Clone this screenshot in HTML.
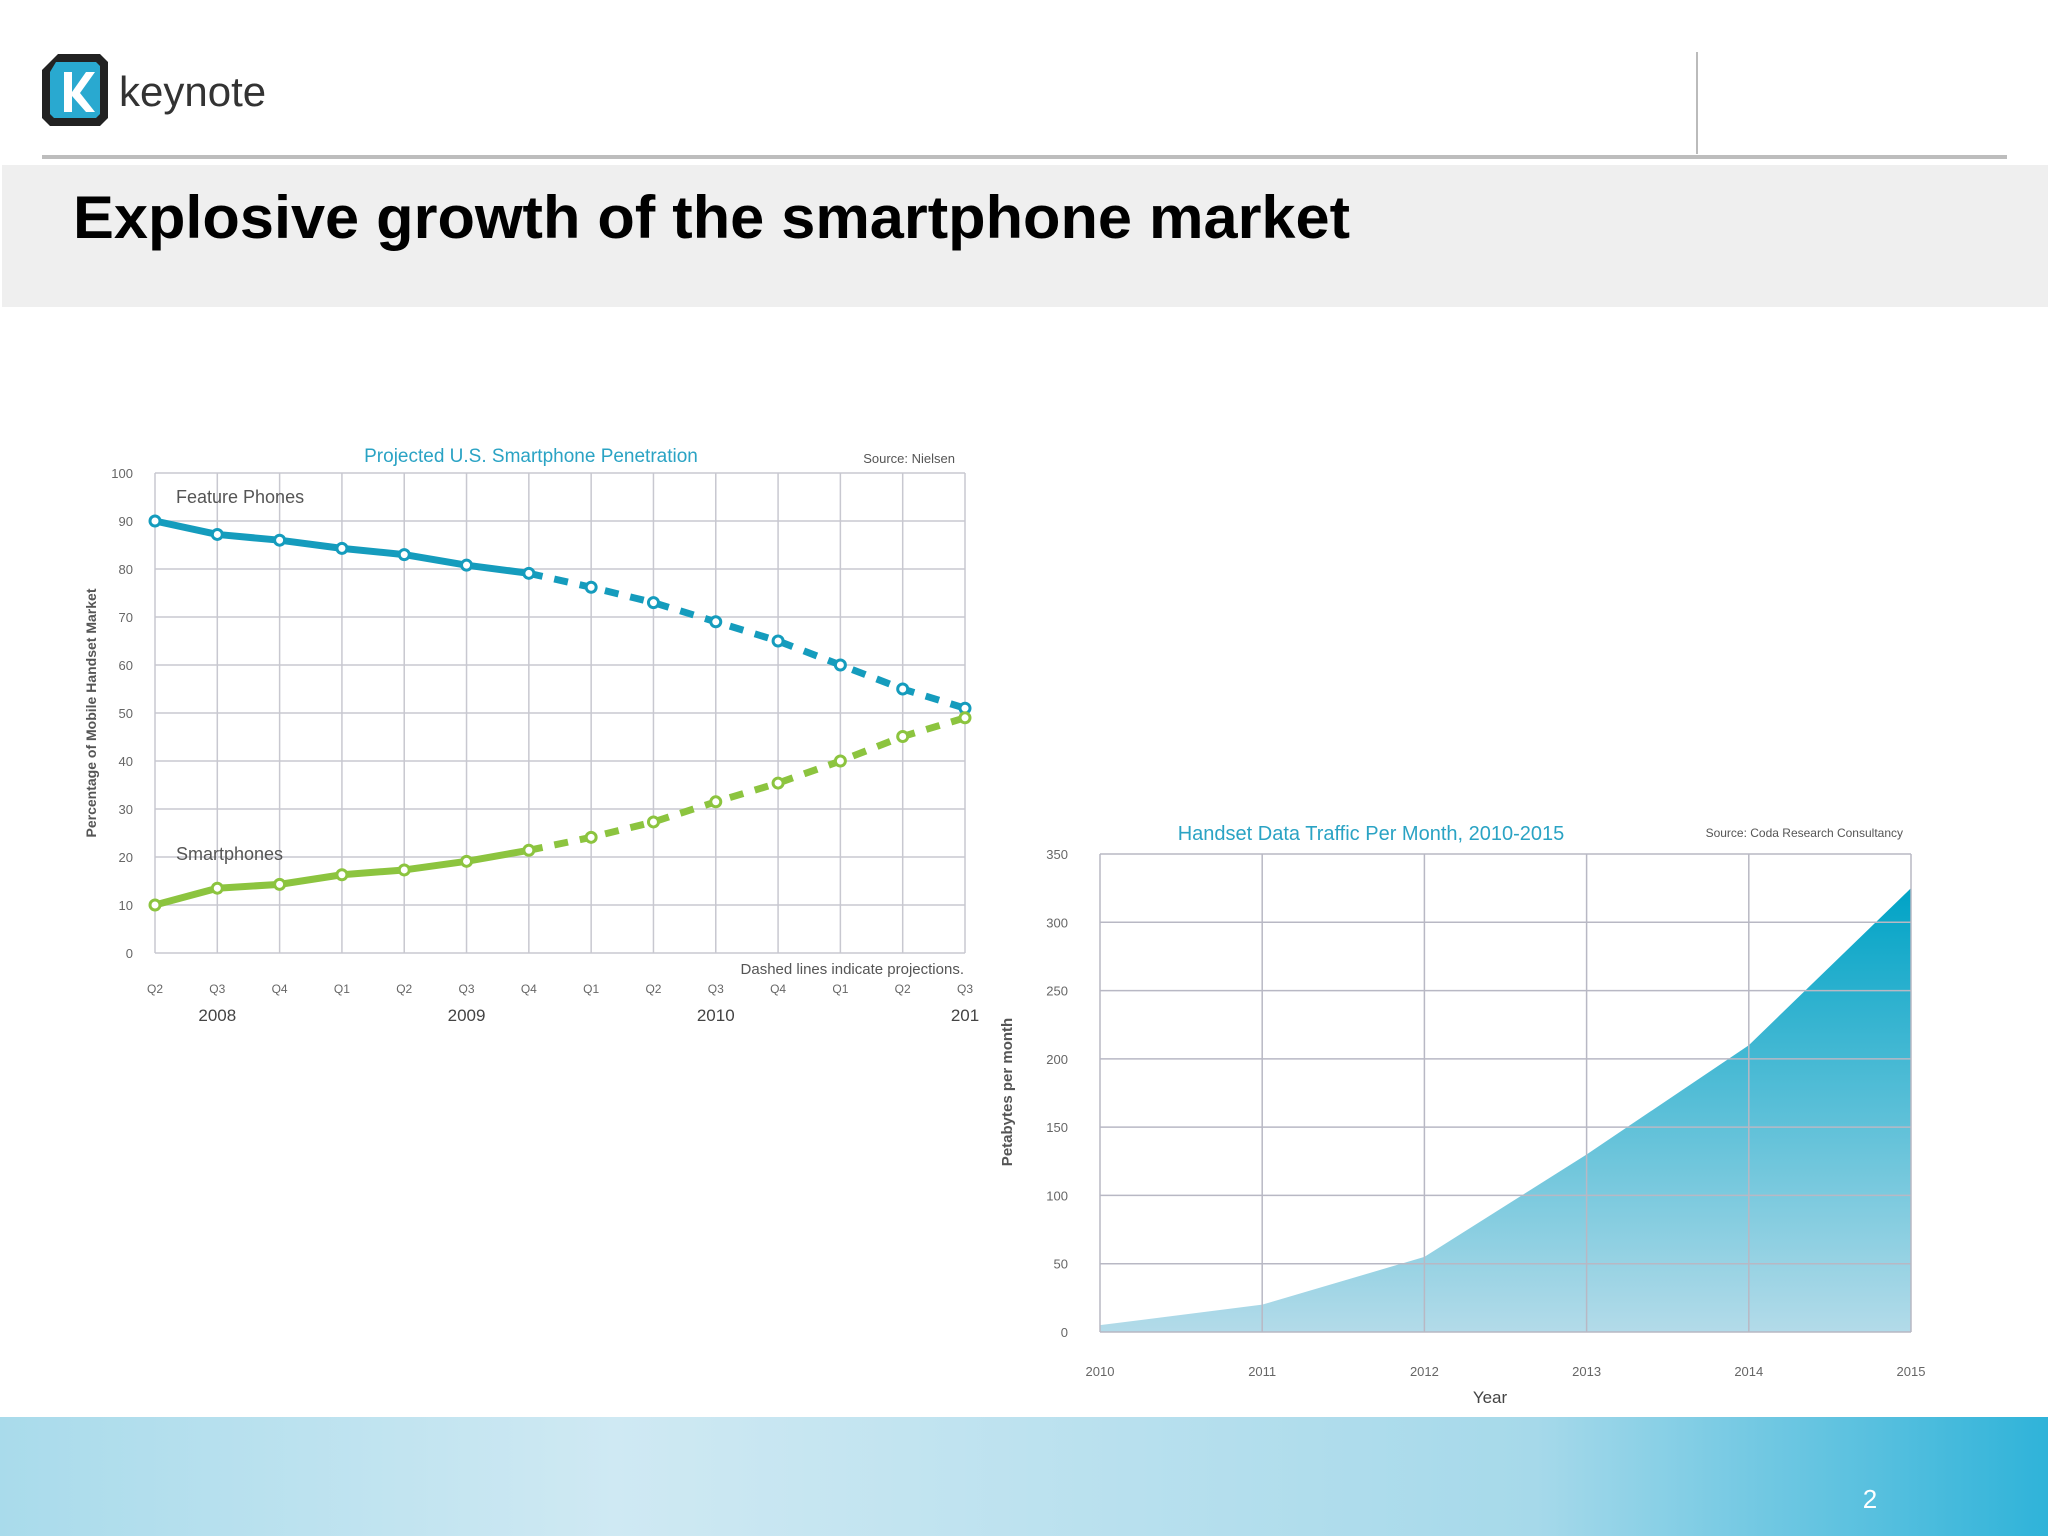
<!DOCTYPE html>
<html><head><meta charset="utf-8"><style>
html,body{margin:0;padding:0;background:#fff}
svg{display:block;font-family:"Liberation Sans",sans-serif}
</style></head><body>
<svg id="s" width="2048" height="1536" viewBox="0 0 2048 1536" xmlns="http://www.w3.org/2000/svg">
<defs>
<linearGradient id="area" x1="0" y1="0" x2="0" y2="1"><stop offset="0" stop-color="#00a3c6"/><stop offset="1" stop-color="#b3dbe9"/></linearGradient>
<linearGradient id="foot" x1="0" y1="0" x2="1" y2="0"><stop offset="0" stop-color="#a9dbeb"/><stop offset="0.3" stop-color="#cfe9f3"/><stop offset="0.75" stop-color="#a6d9ea"/><stop offset="1" stop-color="#2fb3d9"/></linearGradient>
</defs>
<g>
<g>
<path d="M58 54 L100 54 L108 62 L108 118 L100 126 L50 126 L42 118 L42 70 Z" fill="#222"/>
<path d="M56 62 L96 62 L100 66 L100 114 L96 118 L54 118 L50 114 L50 72 Z" fill="#29a9d0"/>
<path d="M64 72 L72 72 L72 92 L86 72 L95 72 L80 93 L95 112 L86 112 L72 96 L72 112 L64 112 Z" fill="#fff"/>
<text x="119" y="106" font-size="42" fill="#333">keynote</text>
</g>
<rect x="1696" y="52" width="2" height="102" fill="#bbb"/>
<rect x="42" y="155" width="1965" height="4" fill="#bdbdbd"/>
</g>
<rect x="2" y="165" width="2046" height="142" fill="#efefef"/>
<text x="73" y="238" font-size="60" font-weight="bold" fill="#000" textLength="1277" lengthAdjust="spacingAndGlyphs">Explosive growth of the smartphone market</text>
<rect x="0" y="1417" width="2048" height="119" fill="url(#foot)"/>
<text x="1870" y="1508" font-size="26" fill="#fff" text-anchor="middle">2</text>
<g id="c1"></g>
<g id="c2"></g>
</svg>
<script>
const quarters=["Q2","Q3","Q4","Q1","Q2","Q3","Q4","Q1","Q2","Q3","Q4","Q1","Q2","Q3"];
const featurePhones=[90,87.2,86,84.3,83,80.8,79.1,76.2,73,69,65,60,55,51];
const smartphones=[10,13.5,14.3,16.3,17.3,19.1,21.4,24.1,27.3,31.5,35.4,40,45.1,49];
const projectionStart=6;
const yTicks1=[0,10,20,30,40,50,60,70,80,90,100];
const years1=["2008","2009","2010","201"];
const years1Idx=[1,5,9,13];

const trafficYears=["2010","2011","2012","2013","2014","2015"];
const traffic=[5,20,55,130,210,325];
const yTicks2=[0,50,100,150,200,250,300,350];

const NS="http://www.w3.org/2000/svg";
function mk(p,tag,at,txt){const e=document.createElementNS(NS,tag);for(const k in at)e.setAttribute(k,at[k]);if(txt!==undefined)e.textContent=txt;p.appendChild(e);return e;}

// chart 1
const c1=document.getElementById('c1');
const L1=155,R1=965,T1=473,B1=953;
const x1=i=>L1+i*(R1-L1)/(quarters.length-1);
const y1=v=>B1-v/100*(B1-T1);
for(const t of yTicks1){
 const g=mk(c1,'line',{x1:L1,x2:R1,y1:y1(t),y2:y1(t),stroke:'#c8c8d0','stroke-width':1.5});
 
 
 const l=mk(c1,'text',{x:133,y:y1(t)+5,'font-size':13,fill:'#666','text-anchor':'end'},String(t));
 
 
}
quarters.forEach((q,i)=>{
 const g=mk(c1,'line',{x1:x1(i),x2:x1(i),y1:T1,y2:B1,stroke:'#c8c8d0','stroke-width':1.5});
 
 
 const l=mk(c1,'text',{x:x1(i),y:993,'font-size':12,fill:'#666','text-anchor':'middle'},q);
 
 
});
years1.forEach((y,k)=>{
 const l=mk(c1,'text',{x:x1(years1Idx[k]),y:1021,'font-size':17,fill:'#444','text-anchor':'middle'},y);
 
 
});
function series(vals,color,name){
 const solid=vals.slice(0,projectionStart+1).map((v,i)=>x1(i)+','+y1(v)).join(' ');
 const dash=vals.slice(projectionStart).map((v,i)=>x1(i+projectionStart)+','+y1(v)).join(' ');
 const a=mk(c1,'polyline',{points:solid,fill:'none',stroke:color,'stroke-width':7,'stroke-linejoin':'round'});
 
 
 const b=mk(c1,'polyline',{points:dash,fill:'none',stroke:color,'stroke-width':7,'stroke-dasharray':'14 12'});
 
 
 vals.forEach((v,i)=>{
  const c=mk(c1,'circle',{cx:x1(i),cy:y1(v),r:5,fill:'#fff',stroke:color,'stroke-width':3});
  
  
 });
}
series(featurePhones,'#159cbd','feature-phones');
series(smartphones,'#8cc43f','smartphones');
[["Projected U.S. Smartphone Penetration",531,462,19,'#2aa3c4','middle','chart-title'],
 ["Source: Nielsen",955,463,13,'#555','end','source-note'],
 ["Feature Phones",176,503,18,'#555','start','feature-phones-label'],
 ["Smartphones",176,860,18,'#555','start','smartphones-label'],
 ["Dashed lines indicate projections.",964,974,15,'#555','end','projection-note']].forEach(d=>{
 const t=mk(c1,'text',{x:d[1],y:d[2],'font-size':d[3],fill:d[4],'text-anchor':d[5]},d[0]);
 
 
});
const yt1=mk(c1,'text',{x:0,y:0,'font-size':14,'font-weight':'bold',fill:'#555','text-anchor':'middle',transform:'translate(96,713) rotate(-90)'},"Percentage of Mobile Handset Market");



// chart 2
const c2=document.getElementById('c2');
const L2=1100,R2=1911,T2=854,B2=1332;
const x2=i=>L2+i*(R2-L2)/(trafficYears.length-1);
const y2=v=>B2-v/350*(B2-T2);
const pts=traffic.map((v,i)=>x2(i)+','+y2(v)).join(' ');
const ar=mk(c2,'polygon',{points:x2(0)+','+B2+' '+pts+' '+x2(traffic.length-1)+','+B2,fill:'url(#area)'});


for(const t of yTicks2){
 const g=mk(c2,'line',{x1:L2,x2:R2,y1:y2(t),y2:y2(t),stroke:'#b8b8c4','stroke-width':1.5});
 
 
 const l=mk(c2,'text',{x:1068,y:y2(t)+5,'font-size':13,fill:'#666','text-anchor':'end'},String(t));
 
 
}
trafficYears.forEach((y,i)=>{
 const g=mk(c2,'line',{x1:x2(i),x2:x2(i),y1:T2,y2:B2,stroke:'#b8b8c4','stroke-width':1.5});
 
 
 const l=mk(c2,'text',{x:x2(i),y:1376,'font-size':13,fill:'#666','text-anchor':'middle'},y);
 
 
});
[["Handset Data Traffic Per Month, 2010-2015",1371,840,20,'#2aa3c4','middle','chart-title'],
 ["Source: Coda Research Consultancy",1903,837,12,'#555','end','source-note'],
 ["Year",1490,1403,17,'#444','middle','x-axis-title']].forEach(d=>{
 const t=mk(c2,'text',{x:d[1],y:d[2],'font-size':d[3],fill:d[4],'text-anchor':d[5]},d[0]);
 
 
});
const yt2=mk(c2,'text',{x:0,y:0,'font-size':15,'font-weight':'bold',fill:'#555','text-anchor':'middle',transform:'translate(1012,1092) rotate(-90)'},"Petabytes per month");


</script>
</body></html>
